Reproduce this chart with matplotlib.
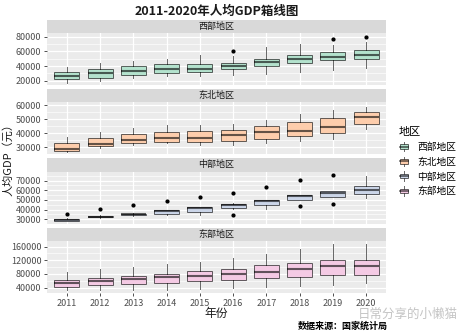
import matplotlib

matplotlib.use("Agg")

import matplotlib.pyplot as plt
from matplotlib.legend_handler import HandlerBase
from matplotlib.lines import Line2D
from matplotlib.patches import Patch, Rectangle

plt.rcParams["font.family"] = ["Noto Sans CJK SC", "DejaVu Sans"]

years = ["2011", "2012", "2013", "2014", "2015", "2016", "2017", "2018", "2019", "2020"]
regions = ["西部地区", "东北地区", "中部地区", "东部地区"]
fills = ["#B3E2CD", "#FDCDAC", "#CBD5E8", "#F4CAE4"]

# 西部地区
west_lo = [17300, 20000, 23600, 26400, 26400, 28200, 28600, 31800, 34100, 37700]
west_q1 = [21800, 24100, 27300, 30000, 31400, 35500, 39500, 43600, 47700, 50000]
west_med = [26800, 30000, 32700, 35500, 36400, 40500, 45000, 50000, 52700, 55000]
west_q3 = [31800, 35500, 39500, 43200, 42300, 44100, 50000, 55500, 58600, 61400]
west_hi = [38200, 43600, 46800, 50000, 55000, 54100, 66400, 70500, 69100, 73200]
west_out = [[], [], [], [], [], [60000], [], [], [76400], [79500]]

# 东北地区
ne_lo = [26400, 29300, 31200, 32600, 31200, 31700, 33100, 34300, 36000, 43100]
ne_q1 = [27400, 30500, 32600, 33800, 33300, 34500, 36000, 37600, 39800, 46700]
ne_med = [28300, 31900, 34800, 36700, 36700, 38600, 40500, 41700, 44000, 51200]
ne_q3 = [32600, 36200, 39000, 40700, 41200, 42100, 44800, 47600, 50500, 54800]
ne_hi = [37100, 41000, 43600, 45500, 46000, 46200, 49000, 53600, 56700, 58300]
ne_out = [[], [], [], [], [], [], [], [], [], []]

# 中部地区
mid_lo = [27900, 31600, 33200, 34700, 34000, 40800, 40400, 49800, 53000, 51600]
mid_q1 = [28300, 32200, 34300, 35400, 37600, 41500, 44800, 50200, 53400, 55900]
mid_med = [29300, 32700, 35200, 38600, 41200, 45100, 48700, 53800, 57700, 60200]
mid_q3 = [30600, 33500, 35900, 39400, 42600, 46200, 49800, 54800, 58800, 64200]
mid_hi = [31000, 34000, 36500, 39900, 43000, 46600, 50300, 55200, 59000, 74600]
mid_out = [[35800], [40100], [44900], [48900], [52700], [57000, 34000],
           [63500], [70700, 43700], [76100, 46200], []]

# 东部地区
east_lo = [31900, 31900, 32500, 33900, 35900, 37500, 43000, 45000, 47100, 52200]
east_q1 = [42000, 47100, 51200, 54200, 58300, 62400, 67500, 71500, 75600, 75600]
east_med = [54200, 59300, 66400, 70500, 72500, 78600, 86800, 94900, 104000, 102000]
east_q3 = [61400, 67500, 73600, 79700, 87800, 94900, 105000, 113200, 119300, 119300]
east_hi = [85800, 92900, 101000, 109000, 115000, 125400, 138600, 153900, 167100, 166100]
east_out = [[], [], [], [], [], [], [], [], [], []]

y_ticks = [
    [20000, 40000, 60000, 80000],
    [30000, 40000, 50000, 60000],
    [30000, 40000, 50000, 60000, 70000],
    [40000, 80000, 120000, 160000],
]
y_limits = [(13800, 85000), (24700, 62000), (25300, 79500), (24000, 177000)]

W, H = 474, 334
LINE = (0, 0, 0, 0.6)


def box_stats(lo, q1, med, q3, hi, out):
    """
    Build the stats dicts that Axes.bxp wants.
    """

    return [
        dict(whislo=a, q1=b, med=c, q3=d, whishi=e, fliers=f)
        for a, b, c, d, e, f in zip(lo, q1, med, q3, hi, out)
    ]


class BoxKey(HandlerBase):
    """
    Small boxplot glyph for the legend keys.
    """

    def create_artists(self, legend, orig_handle, xdescent, ydescent,
                       width, height, fontsize, trans):
        cx = width / 2 - xdescent
        cy = height / 2 - ydescent
        bw = width * 0.8
        bh = height * 0.5

        box = Rectangle((cx - bw / 2, cy - bh / 2), bw, bh,
                        facecolor=orig_handle.get_facecolor(),
                        edgecolor=LINE, linewidth=0.7, transform=trans)
        top = Line2D([cx, cx], [cy + bh / 2, cy + height * 0.55],
                     color=LINE, linewidth=0.7, transform=trans)
        bot = Line2D([cx, cx], [cy - bh / 2, cy - height * 0.55],
                     color=LINE, linewidth=0.7, transform=trans)
        mid = Line2D([cx - bw / 2, cx + bw / 2], [cy, cy],
                     color=LINE, linewidth=1.2, transform=trans)

        return [top, bot, box, mid]


all_stats = [
    box_stats(west_lo, west_q1, west_med, west_q3, west_hi, west_out),
    box_stats(ne_lo, ne_q1, ne_med, ne_q3, ne_hi, ne_out),
    box_stats(mid_lo, mid_q1, mid_med, mid_q3, mid_hi, mid_out),
    box_stats(east_lo, east_q1, east_med, east_q3, east_hi, east_out),
]

fig = plt.figure(figsize=(W / 100, H / 100), dpi=100)

left, right = 47, 386
top_px, bottom_px = 20, 293
strip_h, gap = 13, 4
plot_h = (bottom_px - top_px - 4 * strip_h - 3 * gap) / 4

positions = list(range(len(years)))

for i, region in enumerate(regions):
    strip_top = top_px + i * (strip_h + plot_h + gap)
    plot_top = strip_top + strip_h

    ax = fig.add_axes([left / W, 1 - (plot_top + plot_h) / H,
                       (right - left) / W, plot_h / H])
    sax = fig.add_axes([left / W, 1 - plot_top / H,
                        (right - left) / W, strip_h / H])

    sax.set_facecolor("#D9D9D9")
    sax.set_xticks([])
    sax.set_yticks([])
    for sp in sax.spines.values():
        sp.set_visible(False)
    sax.text(0.5, 0.5, region, ha="center", va="center",
             fontsize=6.5, color="#1A1A1A", transform=sax.transAxes)

    ax.set_facecolor("#EBEBEB")
    for sp in ax.spines.values():
        sp.set_visible(False)

    ax.bxp(
        all_stats[i],
        positions=positions,
        widths=0.75,
        patch_artist=True,
        showcaps=False,
        boxprops=dict(facecolor=fills[i], edgecolor=LINE, linewidth=0.7),
        whiskerprops=dict(color=LINE, linewidth=0.7),
        medianprops=dict(color=LINE, linewidth=1.5),
        flierprops=dict(marker="o", markerfacecolor="black",
                        markeredgecolor="black", markersize=2.0),
        zorder=3,
    )

    ticks = y_ticks[i]
    step = ticks[1] - ticks[0]
    ax.set_yticks(ticks)
    ax.set_yticks([t - step / 2 for t in ticks] + [ticks[-1] + step / 2],
                  minor=True)
    ax.set_ylim(*y_limits[i])
    ax.set_xlim(-0.6, len(years) - 0.4)
    ax.set_yticklabels([str(t) for t in ticks])

    ax.grid(True, which="major", color="white", linewidth=0.9, zorder=0)
    ax.grid(True, which="minor", axis="y", color="white", linewidth=0.45,
            zorder=0)
    ax.set_axisbelow(True)

    ax.tick_params(axis="y", which="major", labelsize=6.5, colors="#333333",
                   labelcolor="#4D4D4D", length=2.5, width=0.6, pad=1.5)
    ax.tick_params(axis="both", which="minor", length=0)

    ax.set_xticks(positions)
    if i == len(regions) - 1:
        ax.set_xticklabels(years)
        ax.tick_params(axis="x", labelsize=6.5, colors="#333333",
                       labelcolor="#4D4D4D", length=2.5, width=0.6, pad=2)
    else:
        ax.set_xticklabels([])
        ax.tick_params(axis="x", length=0)

fig.text((left + right) / 2 / W, 1 - 11 / H, "2011-2020年人均GDP箱线图",
         ha="center", va="center", fontsize=9, fontweight="bold",
         color="#1A1A1A")

fig.text((left + right) / 2 / W, 1 - 313 / H, "年份",
         ha="center", va="center", fontsize=8.5, color="#1A1A1A")

fig.text(8 / W, 1 - 157 / H, "人均GDP（元）", rotation=90,
         ha="center", va="center", fontsize=8, color="#1A1A1A")

fig.text(388 / W, 1 - 326 / H, "数据来源：国家统计局",
         ha="right", va="center", fontsize=6.5, fontweight="bold",
         color="black")

fig.text(458 / W, 1 - 314 / H, "日常分享的小懒猫",
         ha="right", va="center", fontsize=9, color="#C4C4C4")

handles = [Patch(facecolor=c) for c in fills]
leg = fig.legend(
    handles,
    regions,
    title="地区",
    loc="upper left",
    bbox_to_anchor=(399 / W, 1 - 127 / H),
    frameon=False,
    fontsize=7,
    title_fontsize=8,
    handler_map={Patch: BoxKey()},
    handlelength=1.0,
    handleheight=1.0,
    handletextpad=0.9,
    labelspacing=0.5,
    borderpad=0,
    borderaxespad=0,
    alignment="left",
)

fig.savefig("out.png", dpi=100)
